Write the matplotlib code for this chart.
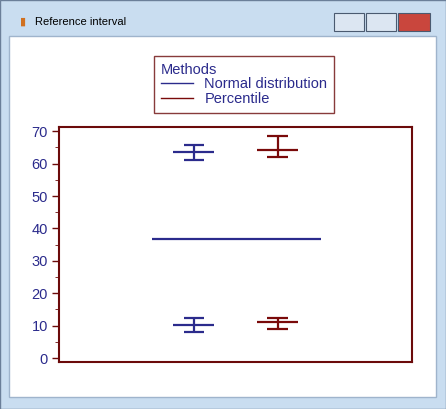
import matplotlib
matplotlib.use("Agg")
import matplotlib.pyplot as plt
from matplotlib.patches import Rectangle
from matplotlib.lines import Line2D

W, H = 446, 409
methods = ["Normal distribution", "Percentile"]
colors = ["#2B2B8C", "#7A0A0A"]
xpos = [1, 2]
# lower limit: estimate, ci low, ci high ; upper limit likewise
lower_est = [10.2, 11.1]
lower_lo = [8.0, 8.9]
lower_hi = [12.5, 12.5]
upper_est = [63.7, 64.2]
upper_lo = [61.1, 62.0]
upper_hi = [65.8, 68.6]
mean_value = 36.9

fig = plt.figure(figsize=(W / 100, H / 100), dpi=100)
fig.patch.set_facecolor("white")

def px(x, y, w, h, **kw):
    fig.patches.append(Rectangle((x / W, 1 - (y + h) / H), w / W, h / H,
                                 transform=fig.transFigure, zorder=-5, **kw))

# window chrome
px(0, 0, W, H, facecolor="#C9DDF0", edgecolor="#6B7F99", linewidth=1)
px(9, 36, 427, 361, facecolor="white", edgecolor="#9FB4CC", linewidth=1)
for i, (x, c) in enumerate([(334, "#DCE6F2"), (366, "#DCE6F2"), (398, "#C9463D")]):
    px(x, 13, 30 if i < 2 else 32, 18, facecolor=c, edgecolor="#4A5A70", linewidth=0.8)
fig.text(20 / W, 1 - 22 / H, "▮", color="#D07020", fontsize=8, va="center")
fig.text(35 / W, 1 - 22 / H, "Reference interval", fontsize=8, va="center",
         family="Liberation Sans")

ax = fig.add_axes([59 / W, 1 - 362 / H, 353 / W, 235 / H])
ax.set_facecolor("white")
for s in ax.spines.values():
    s.set_color("#6B0A0A")
    s.set_linewidth(1.5)

for i in range(2):
    x, c = xpos[i], colors[i]
    for est, lo, hi in [(lower_est[i], lower_lo[i], lower_hi[i]),
                        (upper_est[i], upper_lo[i], upper_hi[i])]:
        ax.hlines(est, x - 0.245, x + 0.245, color=c, linewidth=1.6)
        ax.hlines([lo, hi], x - 0.125, x + 0.125, color=c, linewidth=1.6)
        ax.vlines(x, lo, hi, color=c, linewidth=1.6)
ax.hlines(mean_value, 0.498, 2.52, color=colors[0], linewidth=1.6)

ax.set_xlim(-0.613, 3.605)
ax.set_ylim(-1.2, 71.3)
ax.set_xticks([])
ax.set_yticks(range(0, 71, 10))
ax.set_yticks(range(5, 71, 10), minor=True)
ax.tick_params(axis="y", colors="#6B0A0A", labelcolor="#2B2B8C", labelsize=10.5,
               length=5, width=1, pad=3)
ax.tick_params(axis="y", which="minor", length=3, colors="#6B0A0A")
for t in ax.get_yticklabels():
    t.set_family("Liberation Sans")

handles = [Line2D([], [], color=c, linewidth=1) for c in colors]
leg = fig.legend(handles, methods, title="Methods", loc="upper left",
                 bbox_to_anchor=(154 / W, 1 - 56 / H), frameon=True, fancybox=False,
                 prop={"family": "Liberation Sans", "size": 10.5}, handlelength=2.2,
                 borderpad=0.45, labelspacing=0.05, handletextpad=0.8, borderaxespad=0)
leg.get_frame().set_edgecolor("#6B0A0A")
leg.get_frame().set_linewidth(1)
leg._legend_box.align = "left"
leg.get_title().set_color("#2B2B8C")
leg.get_title().set_family("Liberation Sans")
leg.get_title().set_fontsize(10.5)
for t in leg.get_texts():
    t.set_color("#2B2B8C")

fig.savefig("out.png", dpi=100)
